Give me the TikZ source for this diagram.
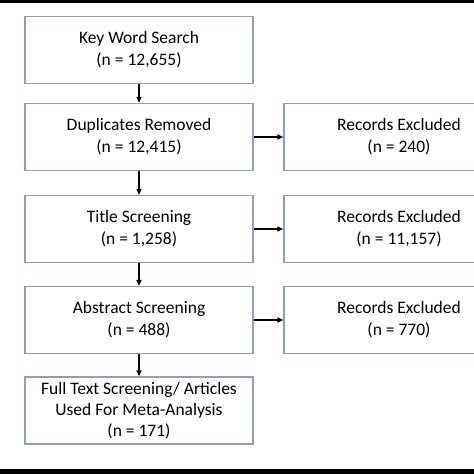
\documentclass[tikz,border=0pt]{standalone}
\usepackage{fontspec}
\setmainfont{Carlito}
\usepackage{xcolor}
\usepackage{tikz}
\usetikzlibrary{arrows.meta}
\definecolor{boxline}{HTML}{8C9EC4}
\tikzstyle{stage}=[draw=boxline, line width=1.3pt, align=center, inner sep=0pt, minimum width=228pt, minimum height=67pt, font=\fontsize{17.5}{22}\selectfont]
\tikzstyle{excl}=[stage, minimum width=230pt]
\tikzstyle{flow}=[-{Triangle[length=6pt,width=5pt]}, line width=1.6pt]

\begin{document}
\begin{tikzpicture}[x=1pt,y=-1pt]
\useasboundingbox (0,0) rectangle (474,474);
\clip (0,0) rectangle (474,474);
\fill (0,0) rectangle (474,3);
\fill (0,469) rectangle (474,474);
% left column
\node[stage] (search) at (139,50) {Key Word Search\\(n = 12,655)};
\node[stage] (dupl) at (139,137) {Duplicates Removed\\(n = 12,415)};
\node[stage] (title) at (139,229) {Title Screening\\(n = 1,258)};
\node[stage] (abstr) at (139,320) {Abstract Screening\\(n = 488)};
\node[stage, font=\fontsize{17.5}{21}\selectfont] (full) at (139,410.5) {Full Text Screening/ Articles\\Used For Meta-Analysis\\(n = 171)};
% right column
\node[excl] (exA) at (399,137) {Records Excluded\\(n = 240)};
\node[excl] (exB) at (399,229) {Records Excluded\\(n = 11,157)};
\node[excl] (exC) at (399,320) {Records Excluded\\(n = 770)};
\foreach \a/\b in {search/dupl,dupl/title,title/abstr,abstr/full} {
	\draw[flow] (\a) -- (\b);
}
\foreach \a/\b in {dupl/exA,title/exB,abstr/exC} {
	\draw[flow] (\a) -- (\b);
}
\end{tikzpicture}
\end{document}
